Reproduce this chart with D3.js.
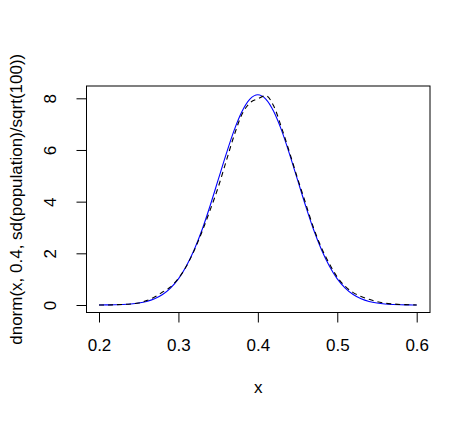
<!DOCTYPE html>
<html>
<head>
<meta charset="utf-8">
<script src="https://cdn.jsdelivr.net/npm/d3@7"></script>
<style>
  body { margin: 0; background: #fff; }
  text { font-family: "Liberation Sans", Arial, sans-serif; fill: #000; }
</style>
</head>
<body>
<div id="chart"></div>
<script>
// density curves, x from 0.20 to 0.60 in steps of 0.01
var xValues = [0.20,0.21,0.22,0.23,0.24,0.25,0.26,0.27,0.28,0.29,
  0.30,0.31,0.32,0.33,0.34,0.35,0.36,0.37,0.38,0.39,
  0.40,0.41,0.42,0.43,0.44,0.45,0.46,0.47,0.48,0.49,
  0.50,0.51,0.52,0.53,0.54,0.55,0.56,0.57,0.58,0.59,0.60];

// solid blue: normal curve
var normalValues = [0.002,0.004,0.010,0.020,0.039,0.075,0.137,0.241,0.405,0.655,
  1.01,1.51,2.15,2.93,3.85,4.84,5.83,6.75,7.49,7.97,
  8.14,7.97,7.49,6.75,5.83,4.84,3.85,2.93,2.15,1.51,
  1.01,0.655,0.405,0.241,0.137,0.075,0.039,0.020,0.010,0.004,0.002];

// dashed black: density estimate
var densityValues = [0.00,0.00,0.01,0.02,0.04,0.08,0.17,0.31,0.50,0.70,
  1.03,1.50,2.12,2.86,3.68,4.55,5.55,6.55,7.38,7.82,
  7.98,8.10,7.70,6.85,5.90,4.90,3.95,3.00,2.22,1.60,
  1.08,0.72,0.48,0.33,0.22,0.13,0.07,0.04,0.02,0.01,0.00];

var xTicks = [0.2, 0.3, 0.4, 0.5, 0.6];
var yTicks = [0, 2, 4, 6, 8];

var svgWidth = 474;
var svgHeight = 421;

var box = { left: 86.5, right: 430, top: 86, bottom: 312.5 };

var svg = d3.select("#chart")
  .append("svg")
  .attr("width", svgWidth)
  .attr("height", svgHeight);

var xScale = d3.scaleLinear().domain([0.2, 0.6]).range([99, 416.7]);
var yScale = d3.scaleLinear().domain([0, 8]).range([305, 98.3]);

// curves
var curveLine = d3.line()
  .x(function(d, i) { return xScale(xValues[i]); })
  .y(function(d) { return yScale(d); })
  .curve(d3.curveMonotoneX);

svg.append("path")
  .datum(normalValues)
  .attr("d", curveLine)
  .attr("fill", "none")
  .attr("stroke", "#0000ff")
  .attr("stroke-width", 1.1);

svg.append("path")
  .datum(densityValues)
  .attr("d", curveLine)
  .attr("fill", "none")
  .attr("stroke", "#000")
  .attr("stroke-width", 1.1)
  .attr("stroke-dasharray", "5,4");

// plot box
svg.append("rect")
  .attr("x", box.left)
  .attr("y", box.top)
  .attr("width", box.right - box.left)
  .attr("height", box.bottom - box.top)
  .attr("fill", "none")
  .attr("stroke", "#000")
  .attr("stroke-width", 1);

// bottom axis
var bottomAxis = d3.axisBottom(xScale)
  .tickValues(xTicks)
  .tickSize(10)
  .tickPadding(16)
  .tickFormat(d3.format(".1f"));

var xAxisGroup = svg.append("g")
  .attr("transform", "translate(0," + box.bottom + ")")
  .call(bottomAxis);
xAxisGroup.selectAll("text").attr("font-size", "17px").attr("font-family", null);
xAxisGroup.selectAll("line").attr("stroke", "#000");
xAxisGroup.select(".domain")
  .attr("d", "M" + xScale(0.2) + ",0H" + xScale(0.6))
  .attr("stroke", "#000");

// left axis
var leftAxis = d3.axisLeft(yScale)
  .tickValues(yTicks)
  .tickSize(10)
  .tickFormat(d3.format("d"));

var yAxisGroup = svg.append("g")
  .attr("transform", "translate(" + box.left + ",0)")
  .call(leftAxis);
yAxisGroup.selectAll("line").attr("stroke", "#000");
yAxisGroup.select(".domain")
  .attr("d", "M0," + yScale(0) + "V" + yScale(8))
  .attr("stroke", "#000");
yAxisGroup.selectAll("text")
  .attr("font-size", "17px")
  .attr("font-family", null)
  .attr("x", null)
  .attr("dy", null)
  .attr("text-anchor", "middle")
  .attr("transform", "translate(-31,0) rotate(-90)");

// axis titles
svg.append("text")
  .attr("x", (box.left + box.right) / 2)
  .attr("y", 393)
  .attr("text-anchor", "middle")
  .attr("font-size", "17px")
  .text("x");

svg.append("text")
  .attr("transform", "translate(22," + ((box.top + box.bottom) / 2) + ") rotate(-90)")
  .attr("text-anchor", "middle")
  .attr("font-size", "17px")
  .text("dnorm(x, 0.4, sd(population)/sqrt(100))");
</script>
</body>
</html>
